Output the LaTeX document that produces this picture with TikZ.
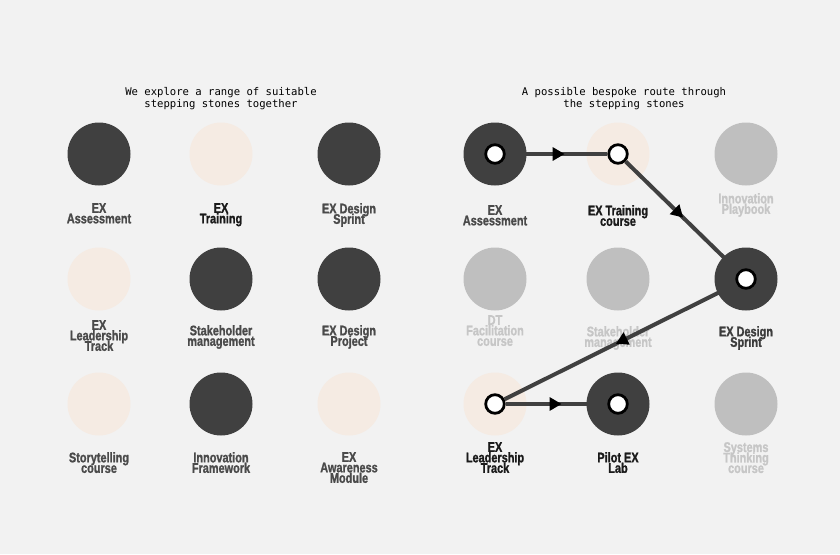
\documentclass[tikz,border=0pt]{standalone}
\usepackage{fontspec}
\usepackage{tikz}
\usetikzlibrary{arrows.meta, decorations.markings}
\newfontfamily\lblfont{Liberation Sans Bold}[FakeStretch=0.78, FakeBold=1.2]
\newfontfamily\hdrfont{DejaVu Sans Mono}
\definecolor{bg}{HTML}{F2F2F2}
\definecolor{darkstone}{HTML}{404040}
\definecolor{peach}{HTML}{F5EBE3}
\definecolor{greystone}{HTML}{BFBFBF}
\definecolor{txtgrey}{HTML}{4A4A4A}
\definecolor{txtblack}{HTML}{1A1A1A}
\definecolor{txtfaint}{HTML}{C6C6C6}
\tikzset{
  stone/.style={circle, inner sep=0pt, minimum size=63pt, fill=#1},
  lbl/.style={anchor=north, inner sep=0pt, align=center, text=#1,
    font={\lblfont\fontsize{14}{10.5}\selectfont\lineskiplimit=-20pt}},
  hdr/.style={anchor=base, inner sep=0pt, align=center,
    font={\hdrfont\fontsize{10.6}{12}\selectfont}},
  dot/.style={circle, inner sep=0pt, minimum size=18.6pt, fill=white,
    draw=black, line width=2.8pt},
  route/.style={draw=darkstone, line width=4pt, postaction={decorate},
    decoration={markings, mark=at position #1 with
      {\arrow[black]{Triangle[length=12pt,width=13pt]}}}}
}

\begin{document}
\begin{tikzpicture}[x=1pt,y=-1pt]
\useasboundingbox[fill=bg] (0,0) rectangle (840,554);

% headers
\node[hdr] (hleft) at (221,107) {We explore a range of suitable\\stepping stones together};
\node[hdr] (hright) at (624,107) {A possible bespoke route through\\the stepping stones};

% left: all the stones
\node[stone=darkstone] (l-assess) at (99,154) {};
\node[stone=peach] (l-train) at (221,154) {};
\node[stone=darkstone] (l-sprint) at (349,154) {};
\node[stone=peach] (l-lead) at (99,279) {};
\node[stone=darkstone] (l-stake) at (221,279) {};
\node[stone=darkstone] (l-project) at (349,279) {};
\node[stone=peach] (l-story) at (99,404) {};
\node[stone=darkstone] (l-frame) at (221,404) {};
\node[stone=peach] (l-aware) at (349,404) {};

\node[lbl=txtgrey] (t-l-assess) at (99,203) {EX\\Assessment};
\node[lbl=txtblack] (t-l-train) at (221,203) {EX\\Training};
\node[lbl=txtgrey] (t-l-sprint) at (349,203) {EX Design\\Sprint};
\node[lbl=txtgrey] (t-l-lead) at (99,320) {EX\\Leadership\\Track};
\node[lbl=txtgrey] (t-l-stake) at (221,325) {Stakeholder\\management};
\node[lbl=txtgrey] (t-l-project) at (349,325) {EX Design\\Project};
\node[lbl=txtgrey] (t-l-story) at (99,452) {Storytelling\\course};
\node[lbl=txtgrey] (t-l-frame) at (221,452) {Innovation\\Framework};
\node[lbl=txtgrey] (t-l-aware) at (349,452) {EX\\Awareness\\Module};

% right: the route
\node[stone=darkstone] (r-assess) at (495,154) {};
\node[stone=peach] (r-train) at (618,154) {};
\node[stone=greystone] (r-play) at (746,154) {};
\node[stone=greystone] (r-dt) at (495,279) {};
\node[stone=greystone] (r-stake) at (618,279) {};
\node[stone=darkstone] (r-sprint) at (746,279) {};
\node[stone=peach] (r-lead) at (495,404) {};
\node[stone=darkstone] (r-pilot) at (618,404) {};
\node[stone=greystone] (r-sys) at (746,404) {};

\node[lbl=txtgrey] (t-r-assess) at (495,205) {EX\\Assessment};
\node[lbl=txtblack] (t-r-train) at (618,205) {EX Training\\course};
\node[lbl=txtfaint] (t-r-play) at (746,193) {Innovation\\Playbook};
\node[lbl=txtfaint] (t-r-dt) at (495,315) {DT\\Facilitation\\course};
\node[lbl=txtfaint] (t-r-stake) at (618,326) {Stakeholder\\management};
\node[lbl=txtblack!85!white] (t-r-sprint) at (746,326) {EX Design\\Sprint};
\node[lbl=txtblack] (t-r-lead) at (495,442) {EX\\Leadership\\Track};
\node[lbl=txtblack] (t-r-pilot) at (618,452) {Pilot EX\\Lab};
\node[lbl=txtfaint] (t-r-sys) at (746,442) {Systems\\Thinking\\course};

\node[dot] (d-assess) at (r-assess) {};
\node[dot] (d-train) at (r-train) {};
\node[dot] (d-sprint) at (r-sprint) {};
\node[dot] (d-lead) at (r-lead) {};
\node[dot] (d-pilot) at (r-pilot) {};

\draw[route=0.58] (d-assess) -- (d-train);
\draw[route=0.51] (d-train) -- (d-sprint);
\draw[route=0.52] (d-sprint) -- (d-lead);
\draw[route=0.55] (d-lead) -- (d-pilot);
\end{tikzpicture}
\end{document}
